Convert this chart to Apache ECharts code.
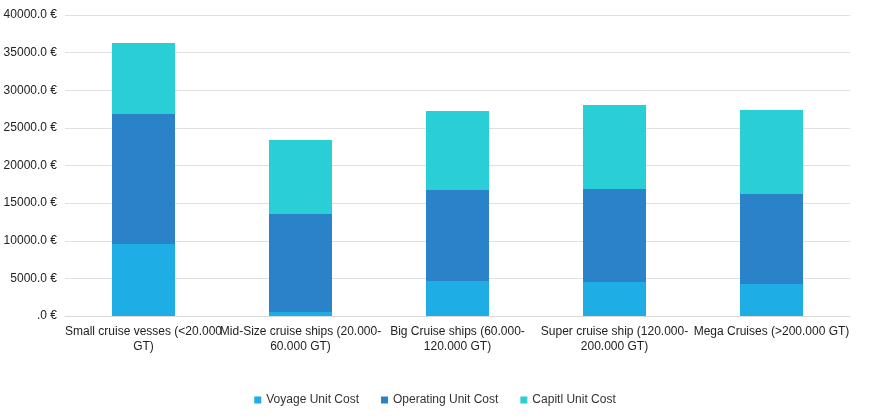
<!DOCTYPE html>
<html><head><meta charset="utf-8">
<script src="https://cdn.jsdelivr.net/npm/echarts@6/dist/echarts.min.js"></script>
<style>html,body{margin:0;padding:0;background:#fff}#c{width:870px;height:419px}</style>
</head><body><div id="c"></div>
<script>
const categories = ["Small cruise vesses (<20.000\nGT)", "Mid-Size cruise ships (20.000-\n60.000 GT)", "Big Cruise ships (60.000-\n120.000 GT)", "Super cruise ship (120.000-\n200.000 GT)", "Mega Cruises (>200.000 GT)"];
const voyage = [9570, 530, 4650, 4520, 4250];
const operating = [17270, 13020, 12090, 12360, 11960];
const capital = [9440, 9840, 10500, 11160, 11170];
const chart = echarts.init(document.getElementById('c'));
const font = 'Liberation Sans, Arial, sans-serif';
function s(name, data, color){return {name, type:'bar', stack:'t', data, barWidth:63, itemStyle:{color}};}
chart.setOption({
  animation:false,
  textStyle:{fontFamily:font},
  grid:{left:65, right:20, top:15, bottom:103},
  legend:{bottom:8, itemWidth:7, itemHeight:7, itemGap:22, icon:'rect', textStyle:{fontSize:12, color:'#333', fontFamily:font}},
  xAxis:{type:'category', data:categories, axisTick:{show:false}, axisLine:{lineStyle:{color:'#d9d9d9'}},
    axisLabel:{color:'#222', fontSize:12, interval:0, lineHeight:15, margin:8}},
  yAxis:{type:'value', min:0, max:40000, interval:5000, splitLine:{lineStyle:{color:'#e0e0e0'}},
    axisLabel:{color:'#222', fontSize:12, formatter:v=> v===0?'.0 €':v.toFixed(1)+' €'}},
  series:[s('Voyage Unit Cost', voyage, '#1eade4'), s('Operating Unit Cost', operating, '#2a82c8'), s('Capitl Unit Cost', capital, '#29ced6')]
});
</script></body></html>
